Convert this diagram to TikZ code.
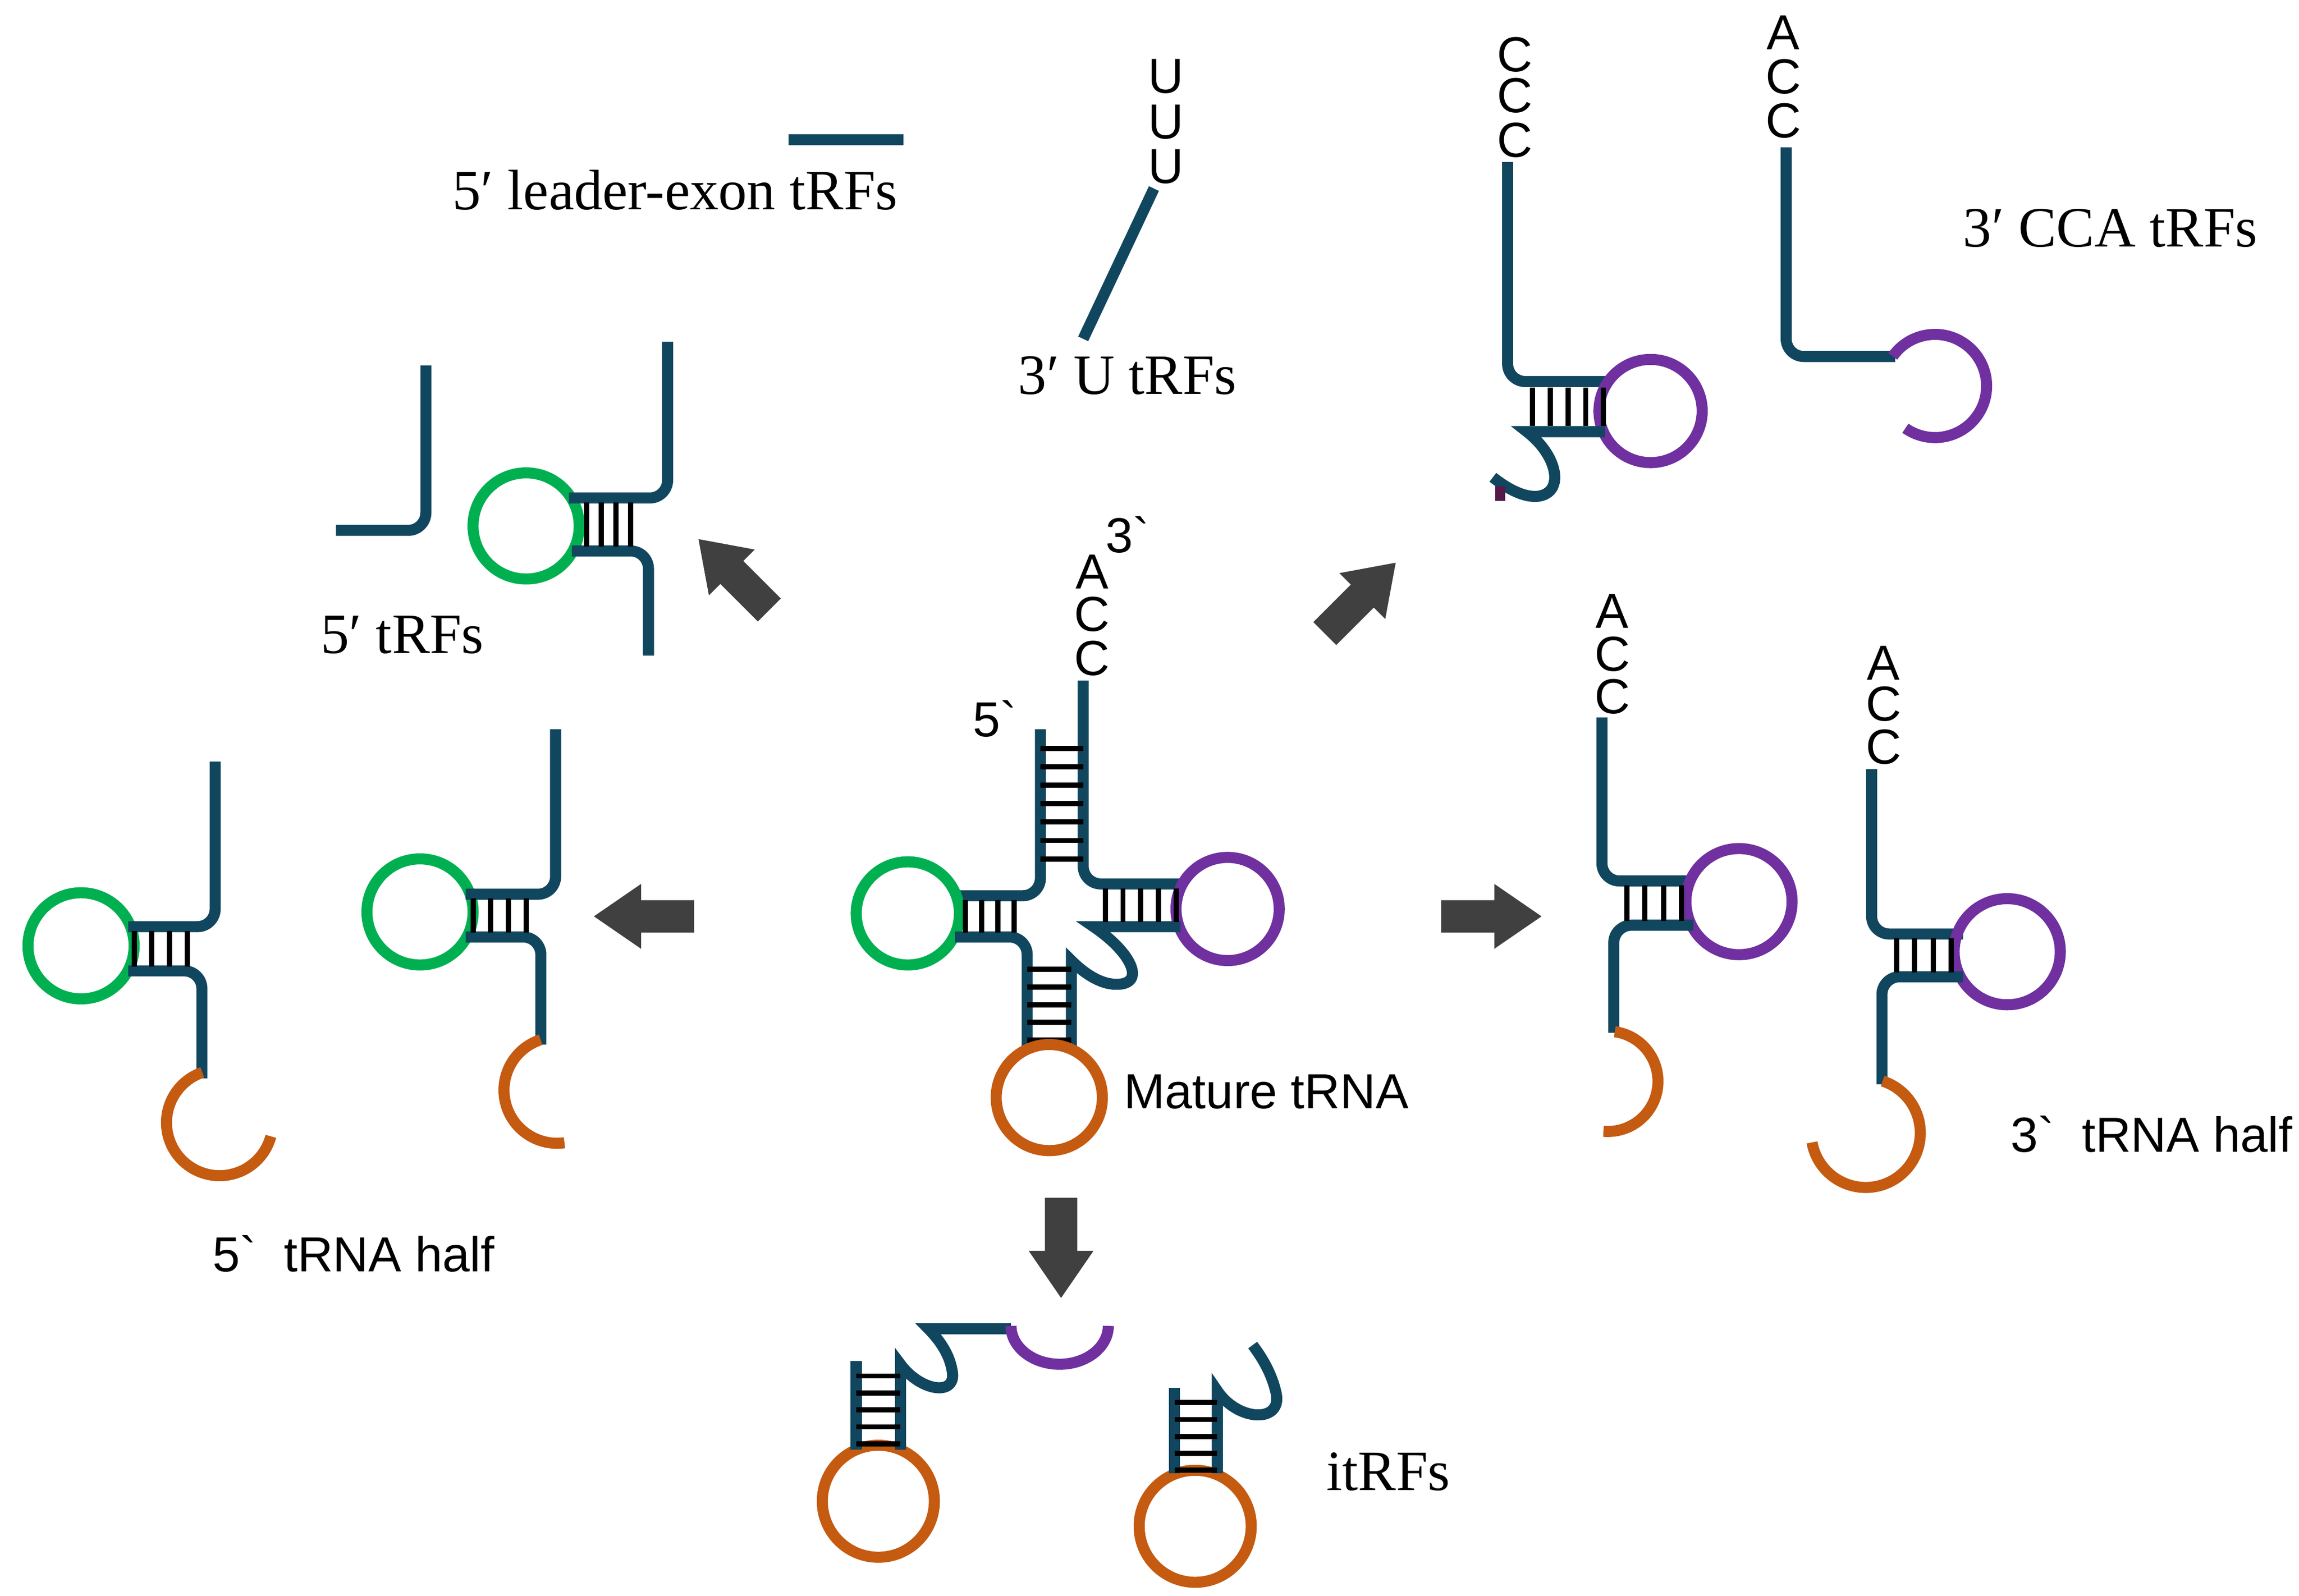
\documentclass[tikz,border=0pt]{standalone}
\usepackage{fontspec}
\setmainfont{Liberation Serif}
\newfontfamily\labsans{Liberation Sans}
\definecolor{teal0}{HTML}{11465F}
\definecolor{gr}{HTML}{00B050}
\definecolor{pu}{HTML}{7030A0}
\definecolor{og}{HTML}{C55A11}
\definecolor{dp}{HTML}{561A4A}
\definecolor{ag}{HTML}{404040}
\begin{document}
\begin{tikzpicture}[x=0.01cm,y=-0.01cm,
  strand/.style={line width=0.075cm, draw=teal0, rounded corners=0.12cm},
  hook/.style={line width=0.075cm, draw=teal0},
  rung/.style={line width=0.035cm, draw=black},
  gl/.style={line width=0.075cm, draw=gr},
  pl/.style={line width=0.075cm, draw=pu},
  ol/.style={line width=0.075cm, draw=og},
  ser/.style={font=\fontsize{11}{13}\selectfont, inner sep=0},
  san/.style={font=\labsans\fontsize{9.5}{11}\selectfont, inner sep=0},
  let/.style={font=\labsans\fontsize{9.5}{11}\selectfont, inner sep=0},
  bigarrow/.pic={\fill[ag] (-34,-11)--(2,-11)--(2,-22)--(34,0)--(2,22)--(2,11)--(-34,11)--cycle;}]
\useasboundingbox (0,0) rectangle (1560,1083);

% ---------- 5' leader-exon tRFs
\draw[strand] (535,95) -- (613,95);
\node[ser] (t1) at (458,129) {5′ leader-exon tRFs};

% ---------- 3' U tRFs
\draw[strand] (783,128) -- (735,230);
\foreach \y/\n in {52/u1,83/u2,113/u3} \node[let] (\n) at (791,\y) {U};
\node[ser] (t2) at (765,255) {3′ U tRFs};

% ---------- 3' CCA tRFs (1)
\foreach \y/\n in {37/a1,65/a2,95/a3} \node[let] (\n) at (1028,\y) {\ifx\n a1 A\else C\fi};
\draw[strand] (1023,110) -- (1023,259) -- (1090,259);
\draw[pl] (1120,279) circle[radius=0.35cm];
\draw[hook] (1089,293) -- (1036,293) .. controls (1058,310) and (1062,336) .. (1042,337) .. controls (1032,337) and (1022,331) .. (1013,324);
\draw[line width=0.07cm, draw=dp] (1018,330) -- (1018,340);
\foreach \x in {1040,1052,1064,1076,1088} \draw[rung] (\x,263) -- (\x,289);

% ---------- 3' CCA tRFs (2)
\node[let] at (1210,22) {A};
\node[let] at (1210,52) {C};
\node[let] at (1210,82) {C};
\draw[strand] (1212,100) -- (1212,242) -- (1286,242);
\draw[pl] ([shift={(145:0.35cm)}]1313,262) arc[start angle=145, end angle=-125, radius=0.35cm];
\node[ser] (t3) at (1432,155) {3′ CCA tRFs};

% ---------- 5' tRFs
\draw[strand] (289,248) -- (289,360) -- (228,360);
\draw[gl] (357,357) circle[radius=0.36cm];
\draw[strand] (453,232) -- (453,338) -- (386,338);
\draw[strand] (388,374) -- (440,374) -- (440,445);
\foreach \x in {398,408,418,428} \draw[rung] (\x,341) -- (\x,371);
\node[ser] (t4) at (273,431) {5′ tRFs};

% ---------- Mature tRNA
\node[let] at (741,388) {A};
\node[let] at (741,417) {C};
\node[let] at (741,447) {C};
\node[let] at (765,363) {3\textasciigrave};
\node[let] at (675,488) {5\textasciigrave};
\draw[strand] (706,495) -- (706,608) -- (647,608);
\draw[strand] (735,462) -- (735,600) -- (802,600);
\foreach \k in {0,...,6} \draw[rung] (706,508+12.5*\k) -- (735,508+12.5*\k);
\draw[gl] (616,620) circle[radius=0.35cm];
\draw[strand] (648,636) -- (697,636) -- (697,711);
\foreach \x in {655,666,677,688} \draw[rung] (\x,611) -- (\x,633);
\draw[pl] (833,617) circle[radius=0.35cm];
\draw[hook] (801,629) -- (742,629) .. controls (770,648) and (778,670) .. (755,668) .. controls (745,667) and (735,660) .. (727,652) -- (727,711);
\foreach \x in {750,762,774,786,798} \draw[rung] (\x,603) -- (\x,626);
\foreach \k in {0,...,4} \draw[rung] (697,658+12*\k) -- (727,658+12*\k);
\draw[ol] (712,745) circle[radius=0.36cm];
\node[san,anchor=west] (t5) at (762,741) {Mature tRNA};

% ---------- 5` tRNA half (A)
\draw[gl] (55,642) circle[radius=0.36cm];
\draw[strand] (146,517) -- (146,629) -- (87,629);
\draw[strand] (87,659) -- (137,659) -- (137,732);
\foreach \x in {91,103,115,127} \draw[rung] (\x,632) -- (\x,656);
\draw[ol] ([shift={(109:0.36cm)}]149,762) arc[start angle=109, end angle=345, radius=0.36cm];
% (B)
\draw[gl] (285,619) circle[radius=0.36cm];
\draw[strand] (377,495) -- (377,607) -- (316,607);
\draw[strand] (316,636) -- (367,636) -- (367,709);
\foreach \x in {321,333,345,357} \draw[rung] (\x,610) -- (\x,633);
\draw[ol] ([shift={(108:0.36cm)}]378,740) arc[start angle=108, end angle=278, radius=0.36cm];
\node[san] (t6) at (240,851) {5\textasciigrave\ \ tRNA half};

% ---------- 3` tRNA half (C)
\node[let] at (1094,415) {A};
\node[let] at (1094,444) {C};
\node[let] at (1094,473) {C};
\draw[strand] (1087,487) -- (1087,598) -- (1149,598);
\draw[pl] (1180,612) circle[radius=0.36cm];
\draw[strand] (1149,628) -- (1095,628) -- (1095,701);
\foreach \x in {1104,1116,1129,1141} \draw[rung] (\x,601) -- (\x,625);
\draw[ol] ([shift={(82:0.34cm)}]1091,734) arc[start angle=82, end angle=-95, radius=0.34cm];
% (D)
\node[let] at (1278,450) {A};
\node[let] at (1278,478) {C};
\node[let] at (1278,507) {C};
\draw[strand] (1270,522) -- (1270,634) -- (1332,634);
\draw[pl] (1362,646) circle[radius=0.36cm];
\draw[strand] (1332,663) -- (1277,663) -- (1277,736);
\foreach \x in {1287,1299,1312,1324} \draw[rung] (\x,637) -- (\x,660);
\draw[ol] ([shift={(72:0.37cm)}]1266,769) arc[start angle=72, end angle=-170, radius=0.37cm];
\node[san] (t7) at (1460,770) {3\textasciigrave\ \ tRNA half};

% ---------- itRFs (E)
\draw[ol] (596,1019) circle[radius=0.38cm];
\draw[line width=0.075cm, draw=teal0] (581,924) -- (581,984);
\draw[hook] (611,984) -- (611,926) .. controls (625,945) and (650,948) .. (646,930) .. controls (644,918) and (636,908) .. (630,902) -- (686,902);
\foreach \k in {0,...,4} \draw[rung] (581,934+11.5*\k) -- (611,934+11.5*\k);
\draw[pl] (686,900) arc[start angle=180, end angle=360, x radius=0.33cm, y radius=0.26cm];
% (F)
\draw[ol] (811,1036) circle[radius=0.38cm];
\draw[line width=0.075cm, draw=teal0] (797,942) -- (797,1000);
\draw[hook] (826,1000) -- (826,944) .. controls (840,965) and (870,966) .. (866,946) .. controls (863,932) and (856,921) .. (850,913);
\foreach \k in {0,...,4} \draw[rung] (797,952+11.5*\k) -- (826,952+11.5*\k);
\node[ser] (t8) at (942,999) {itRFs};

% ---------- arrows
\pic at (437,622) [rotate=180] {bigarrow};
\pic at (1012,622) {bigarrow};
\pic at (720,847) [rotate=-90] {bigarrow};
\pic at (498,390) [rotate=135] {bigarrow};
\pic at (923,406) [rotate=45] {bigarrow};
\end{tikzpicture}
\end{document}
